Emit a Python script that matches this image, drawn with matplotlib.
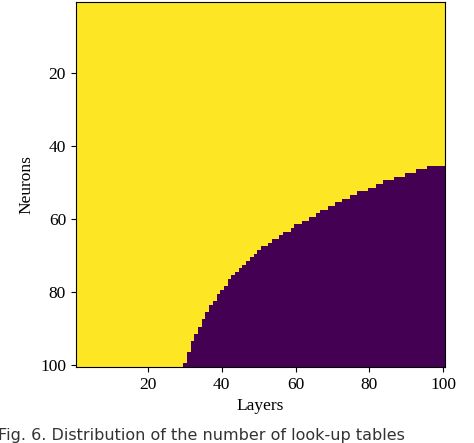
import numpy as np
import matplotlib
matplotlib.use("Agg")
import matplotlib.pyplot as plt

layers = list(range(1, 101))
neurons = list(range(1, 101))
# first neuron count (row) that is purple, for layers 30..100
boundary_layers = list(range(30, 101))
boundary_neurons = [100, 97, 94, 92, 90, 88, 86, 84, 83, 81, 80, 79, 77, 76, 75, 74, 73, 72, 71, 70,
                    69, 68, 68, 67, 66, 66, 65, 64, 64, 63, 62, 62, 61, 61, 60, 60, 59, 58, 58, 57,
                    57, 56, 56, 55, 55, 54, 54, 53, 53, 53, 52, 52, 51, 51, 50, 50, 50, 49, 49, 49,
                    48, 48, 48, 47, 47, 47, 46, 46, 46, 46, 46]

grid = np.ones((len(neurons), len(layers)))
for L, n0 in zip(boundary_layers, boundary_neurons):
    for n in neurons:
        if n >= n0:
            grid[n - 1, L - 1] = 0

plt.rcParams['font.family'] = ['Liberation Serif', 'DejaVu Serif']
fig = plt.figure(figsize=(4.74, 4.43), dpi=100)
ax = fig.add_axes([0.160, 0.172, 0.779, 0.824])
ax.imshow(grid, cmap='viridis', aspect='auto', interpolation='nearest',
          extent=[0.5, 100.5, 100.5, 0.5])
ax.set_xticks([20, 40, 60, 80, 100])
ax.set_yticks([20, 40, 60, 80, 100])
ax.tick_params(labelsize=12.5)
ax.set_xlabel('Layers', fontsize=12.5)
ax.set_ylabel('Neurons', fontsize=12.5)
fig.text(-0.005, 0.0, 'Fig. 6. Distribution of the number of look-up tables', fontsize=11.5,
         family=['DejaVu Sans'], color='#333333', va='bottom')
fig.savefig('out.png', dpi=100)
